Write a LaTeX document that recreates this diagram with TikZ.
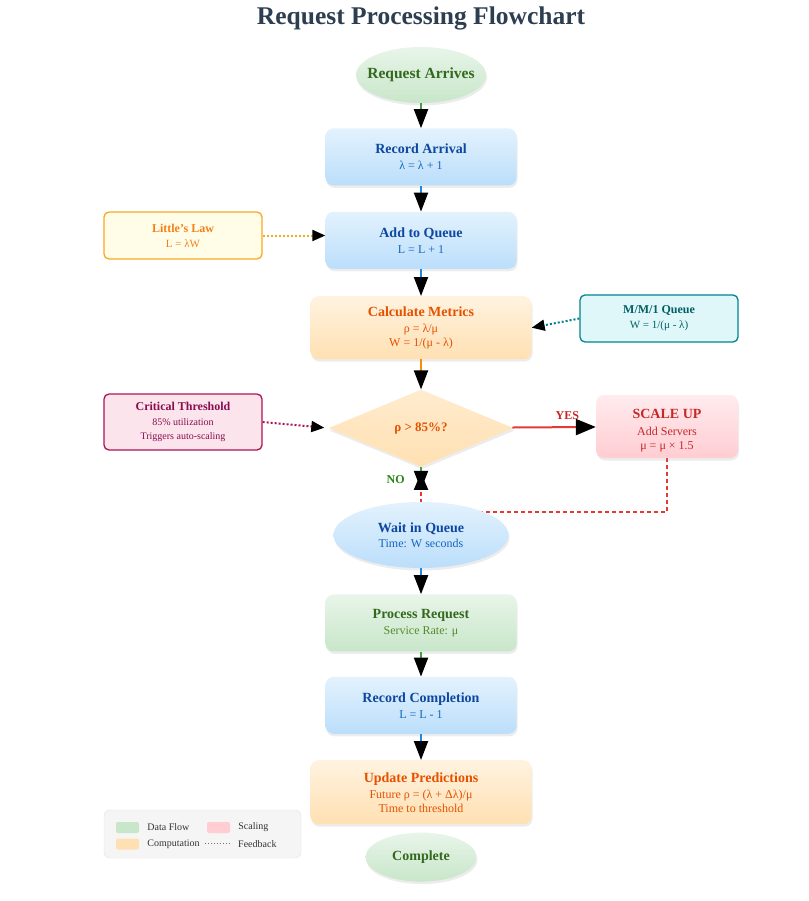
\documentclass[tikz,border=0pt]{standalone}
\usepackage{fontspec}
\setmainfont{Liberation Serif}
\usepackage{tikz}
\usetikzlibrary{positioning,arrows.meta,shapes.geometric,shadows}

\definecolor{grtop}{HTML}{E8F5E9}\definecolor{grbot}{HTML}{C8E6C9}
\definecolor{grtxt}{HTML}{33691E}\definecolor{grsub}{HTML}{558B2F}
\definecolor{grline}{HTML}{43A047}
\definecolor{bltop}{HTML}{E3F2FD}\definecolor{blbot}{HTML}{BBDEFB}
\definecolor{bltxt}{HTML}{0D47A1}\definecolor{blsub}{HTML}{1565C0}
\definecolor{blline}{HTML}{1E88E5}
\definecolor{ortop}{HTML}{FFF3E0}\definecolor{orbot}{HTML}{FFE0B2}
\definecolor{ortxt}{HTML}{E65100}\definecolor{orline}{HTML}{FB8C00}
\definecolor{rdtop}{HTML}{FFEBEE}\definecolor{rdbot}{HTML}{FFCDD2}
\definecolor{rdtxt}{HTML}{C62828}\definecolor{rdline}{HTML}{E53935}
\definecolor{yefill}{HTML}{FFFDE7}\definecolor{yedraw}{HTML}{F9A825}\definecolor{yetxt}{HTML}{F57F17}
\definecolor{tefill}{HTML}{E0F7FA}\definecolor{tedraw}{HTML}{00838F}\definecolor{tetxt}{HTML}{006064}
\definecolor{pkfill}{HTML}{FCE4EC}\definecolor{pkdraw}{HTML}{AD1457}\definecolor{pktxt}{HTML}{880E4F}
\definecolor{heading}{HTML}{2C3E50}
\definecolor{legfill}{HTML}{F5F5F5}\definecolor{legdraw}{HTML}{E0E0E0}

\newcommand{\boxhead}[1]{{\fontsize{14}{16}\selectfont\bfseries #1}}
\newcommand{\notehead}[1]{{\fontsize{12}{15}\selectfont\bfseries #1}}

\pgfdeclarelayer{background}
\pgfsetlayers{background,main}

\begin{document}
\begin{tikzpicture}[
  x=1pt, y=1pt,
  soft/.style={drop shadow={shadow xshift=1pt,shadow yshift=-2.5pt,opacity=0.15}},
  box/.style={rectangle,rounded corners=8pt,minimum width=191pt,minimum height=57pt,inner sep=2pt,align=center,
    font=\fontsize{12}{16}\selectfont,soft},
  widebox/.style={box,minimum width=221pt,minimum height=63pt},
  oval/.style={ellipse,inner sep=0pt,align=center,font=\fontsize{12}{15}\selectfont,soft},
  greenfill/.style={top color=grtop,bottom color=grbot,text=grsub},
  bluefill/.style={top color=bltop,bottom color=blbot,text=blsub},
  orangefill/.style={top color=ortop,bottom color=orbot,text=ortxt},
  redfill/.style={top color=rdtop,bottom color=rdbot,text=rdtxt},
  note/.style={rectangle,rounded corners=5pt,draw,line width=1.3pt,minimum width=158pt,minimum height=47pt,
    inner sep=2pt,align=center,font=\fontsize{11}{15}\selectfont},
  flow/.style={line width=2pt,-{Triangle[width=14pt,length=19pt,color=black]}},
  hint/.style={line width=2pt,dash pattern=on 2pt off 2pt,-{Triangle[width=11pt,length=13pt,color=black]}},
  swatch/.style={rectangle,rounded corners=2pt,minimum width=23pt,minimum height=11pt,inner sep=0pt},
  legtext/.style={anchor=west,inner sep=0pt,font=\fontsize{10}{12}\selectfont,text=black!80}
]
  \useasboundingbox (0,0) rectangle (808,-901);

  % Title
  \node[text=heading,font=\fontsize{25.5}{30}\selectfont\bfseries] (title) at (421,-18) {Request Processing Flowchart};

  % Main column
  \node[oval,greenfill,minimum width=130pt,minimum height=56pt,inner xsep=-9pt] (arrive) at (421,-75)
    {{\fontsize{15.5}{17}\selectfont\bfseries\color{grtxt}Request Arrives}};
  \node[box,bluefill,below=25pt of arrive] (record) {\boxhead{\color{bltxt}Record Arrival}\\ λ = λ + 1};
  \node[box,bluefill,below=26pt of record] (enqueue) {\boxhead{\color{bltxt}Add to Queue}\\ L = L + 1};
  \node[widebox,orangefill,below=27pt of enqueue] (metrics) {\boxhead{Calculate Metrics}\\ ρ = λ/μ\\[-2pt] W = 1/(μ - λ)};
  \node[diamond,top color=ortop!60!orbot,bottom color=orbot,text=ortxt,minimum width=185pt,minimum height=77pt,
    inner sep=0pt,soft,below=30pt of metrics] (check) {\fontsize{13}{15}\selectfont\bfseries ρ > 85\%?};
  \node[oval,bluefill,minimum width=175pt,minimum height=66pt,below=35pt of check] (wait) {\boxhead{\color{bltxt}Wait in Queue}\\ Time: W seconds};
  \node[box,greenfill,below=26pt of wait] (process) {\boxhead{\color{grtxt}Process Request}\\ Service Rate: μ};
  \node[box,bluefill,below=25pt of process] (done) {\boxhead{\color{bltxt}Record Completion}\\ L = L - 1};
  \node[widebox,orangefill,minimum height=64pt,below=26pt of done] (predict) {\boxhead{Update Predictions}\\ Future ρ = (λ + Δλ)/μ\\[-2pt] Time to threshold};
  \node[oval,greenfill,minimum width=111pt,minimum height=49pt,below=8pt of predict] (complete) {\boxhead{\color{grtxt}Complete}};

  % Side notes
  \node[note,fill=yefill,draw=yedraw,text=yetxt] (little) at (183,-235.5) {\notehead{Little's Law}\\ L = λW};
  \node[note,fill=tefill,draw=tedraw,text=tetxt] (mm1) at (659,-318.5) {\notehead{M/M/1 Queue}\\ W = 1/(μ - λ)};
  \node[note,fill=pkfill,draw=pkdraw,text=pktxt,minimum height=56pt,font=\fontsize{10}{14.5}\selectfont] (crit) at (183,-422)
    {\notehead{Critical Threshold}\\ 85\% utilization\\ Triggers auto-scaling};
  \node[rectangle,rounded corners=8pt,redfill,minimum width=142pt,minimum height=63pt,inner sep=2pt,align=center,
    font=\fontsize{12}{14.5}\selectfont,soft] (scale) at (667,-426.5) {\rule{0pt}{18pt}\boxhead{SCALE UP}\\[2pt] Add Servers\\ μ = μ × 1.5};

  % Feedback path, behind the wait node
  \begin{pgfonlayer}{background}
    \draw[line width=2pt,rdline,dash pattern=on 4pt off 3pt,shorten >=6pt,-{Triangle[width=14pt,length=17pt,color=black]}]
      (scale.south) |- ([yshift=-10pt]wait.north) -- (check.south);
  \end{pgfonlayer}

  % Flow
  \draw[flow,grline] (arrive) -- (record);
  \draw[flow,blline] (record) -- (enqueue);
  \draw[flow,blline] (enqueue) -- (metrics);
  \draw[flow,orline] (metrics) -- (check);
  \draw[flow,grline,shorten >=12pt] (check) -- node[left=12pt,pos=0.37,text=grtxt!80!green,font=\fontsize{12}{14}\selectfont\bfseries] (no) {NO} (wait);
  \draw[flow,rdline,-{Triangle[width=16pt,length=20pt,color=black]}] (check) -- node[above=3pt,pos=0.66,text=rdtxt,font=\fontsize{12}{14}\selectfont\bfseries] (yes) {YES} (scale);
  \draw[flow,blline] (wait) -- (process);
  \draw[flow,grline] (process) -- (done);
  \draw[flow,blline] (done) -- (predict);

  % Hints
  \draw[hint,yedraw] (little.east) -- (little.east -| enqueue.west);
  \draw[hint,tedraw] (mm1.west) -- (metrics.east);
  \draw[hint,pkdraw,shorten >=4pt] (crit.east) -- (check.west);

  % Legend
  \node[rectangle,rounded corners=6pt,fill=legfill,draw=legdraw,minimum width=197pt,minimum height=48pt] (legend) at (202.5,-834) {};
  \node[swatch,fill=grbot] (sw1) at (127.5,-827.5) {};
  \node[legtext,right=8pt of sw1] (lt1) {Data Flow};
  \node[swatch,fill=rdbot] (sw2) at (218.5,-827.5) {};
  \node[legtext,right=8pt of sw2] (lt2) {Scaling};
  \node[swatch,fill=orbot] (sw3) at (127.5,-844) {};
  \node[legtext,right=8pt of sw3] (lt3) {Computation};
  \coordinate (fb1) at (205,-843);
  \coordinate (fb2) at (230,-843);
  \draw[black!55,line width=1pt,dotted] (fb1) -- (fb2);
  \node[legtext] (lt4) at (238,-844) {Feedback};
\end{tikzpicture}
\end{document}
